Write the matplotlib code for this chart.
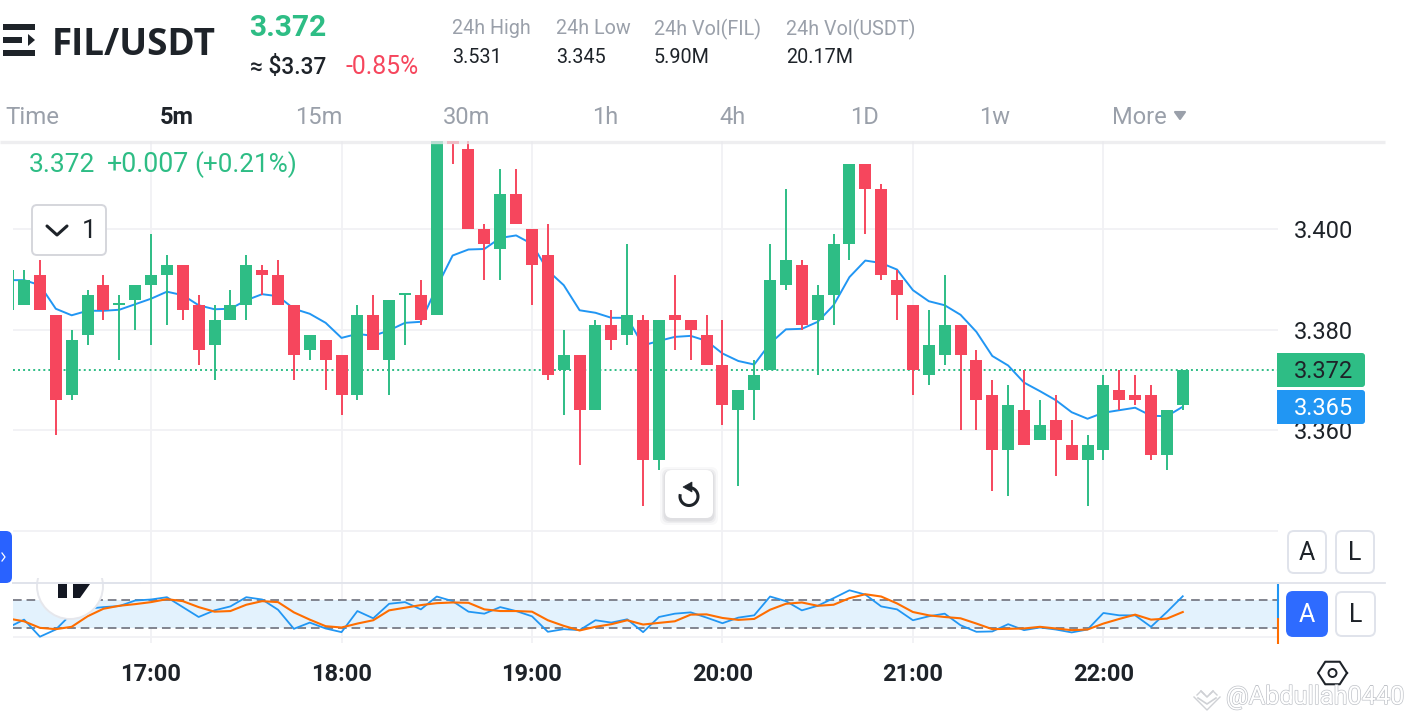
import numpy as np
import matplotlib
matplotlib.use("Agg")
import matplotlib.pyplot as plt
from matplotlib.patches import FancyBboxPatch, Circle, Polygon, Rectangle
import matplotlib.patheffects as pe

plt.rcParams['font.family'] = ['Roboto', 'DejaVu Sans']

W, H = 1413, 720
GREEN, RED, BLUE, ORANGE = '#2ebd85', '#f6465d', '#2196f3', '#ff6d00'
DARK, GREY, GRID = '#1e2329', '#9aa0aa', '#f1f1f4'

# candles: open, high, low, close
opens = [3.392,3.385,3.391,3.383,3.367,3.379,3.389,3.385,3.386,3.389,3.391,3.393,3.385,3.377,3.382,3.385,3.392,3.391,3.385,3.376,3.378,3.375,3.367,3.383,3.374,3.387,3.387,3.383,3.419,3.416,3.400,3.396,3.407,3.400,3.395,3.372,3.375,3.364,3.381,3.379,3.382,3.354,3.383,3.382,3.379,3.373,3.364,3.368,3.372,3.389,3.393,3.382,3.387,3.397,3.413,3.408,3.390,3.385,3.371,3.375,3.381,3.374,3.367,3.356,3.364,3.358,3.362,3.357,3.354,3.356,3.368,3.367,3.367,3.355,3.365]
highs = [3.392,3.392,3.394,3.383,3.380,3.388,3.391,3.387,3.389,3.399,3.395,3.393,3.387,3.385,3.388,3.395,3.393,3.394,3.385,3.379,3.378,3.375,3.385,3.387,3.386,3.387,3.390,3.422,3.419,3.418,3.401,3.412,3.412,3.400,3.401,3.380,3.375,3.382,3.384,3.397,3.383,3.382,3.391,3.382,3.383,3.382,3.368,3.374,3.397,3.408,3.394,3.389,3.399,3.413,3.413,3.409,3.392,3.385,3.384,3.391,3.381,3.376,3.370,3.369,3.372,3.366,3.367,3.362,3.359,3.371,3.372,3.371,3.369,3.364,3.372]
lows  = [3.384,3.385,3.384,3.359,3.366,3.377,3.382,3.374,3.380,3.377,3.381,3.382,3.373,3.370,3.382,3.382,3.387,3.385,3.370,3.374,3.368,3.363,3.366,3.376,3.367,3.377,3.381,3.383,3.413,3.400,3.390,3.390,3.401,3.385,3.370,3.363,3.353,3.364,3.376,3.377,3.345,3.352,3.376,3.374,3.373,3.361,3.349,3.362,3.372,3.388,3.380,3.371,3.381,3.394,3.399,3.390,3.382,3.367,3.369,3.373,3.360,3.360,3.348,3.347,3.357,3.358,3.351,3.354,3.345,3.354,3.364,3.365,3.354,3.352,3.364]
closes= [3.384,3.390,3.384,3.366,3.378,3.387,3.384,3.385,3.389,3.391,3.393,3.384,3.376,3.382,3.385,3.393,3.391,3.385,3.375,3.379,3.374,3.367,3.383,3.376,3.386,3.387,3.382,3.422,3.417,3.400,3.397,3.407,3.401,3.393,3.371,3.375,3.364,3.381,3.378,3.383,3.354,3.382,3.382,3.380,3.373,3.365,3.368,3.371,3.390,3.394,3.381,3.387,3.397,3.413,3.408,3.391,3.387,3.372,3.377,3.381,3.375,3.366,3.356,3.365,3.357,3.361,3.358,3.354,3.357,3.369,3.366,3.366,3.355,3.364,3.372]
up = [1,1,0,0,1,1,0,1,1,1,1,0,0,1,1,1,0,0,0,1,0,0,1,0,1,1,0,1,0,0,0,1,0,0,0,1,0,1,0,1,0,1,0,0,0,0,1,1,1,1,0,1,1,1,0,0,0,0,1,1,0,0,0,1,0,1,0,0,1,1,0,0,0,1,1]

ma_line = [3.3899,3.3899,3.3889,3.3842,3.3829,3.3838,3.3838,3.3840,3.3851,3.3862,3.3876,3.3869,3.3849,3.3841,3.3842,3.3859,3.3871,3.3867,3.3842,3.3832,3.3814,3.3784,3.3792,3.3788,3.3799,3.3814,3.3816,3.3885,3.3948,3.3960,3.3961,3.3983,3.3988,3.3971,3.3918,3.3889,3.3839,3.3834,3.3824,3.3824,3.3769,3.3778,3.3786,3.3788,3.3778,3.3753,3.3738,3.3731,3.3773,3.3801,3.3802,3.3816,3.3849,3.3905,3.3938,3.3933,3.3920,3.3879,3.3857,3.3849,3.3830,3.3796,3.3748,3.3729,3.3695,3.3678,3.3660,3.3636,3.3623,3.3635,3.3640,3.3645,3.3629,3.3628,3.3647]

osc_fast = [30,41.4,16.7,27.1,50,57.1,59.5,61,69,70.5,73.8,59.5,45.2,54.8,60.5,73.8,70.5,55.7,28.1,37.1,28.6,23.3,53.8,43.3,64.3,66.7,56.2,74.8,68.1,52.9,50,59.5,53.8,46.2,23.8,27.6,26.2,40.5,37.1,41.9,23.3,45.2,50,51.9,44.3,36.2,44.3,47.6,74.8,68.1,54.8,61.4,72.4,83.8,77.6,60.5,56.2,40.5,46.2,50,33.3,23.8,24.3,34.8,26.2,30,27.1,22.9,27.1,51,47.6,47.6,31,52.4,75.2]
osc_slow = [42.9,39,29.5,27.6,31,46.2,57.1,61.4,63.8,66.7,71,68.1,59.5,52.9,53.8,62.9,68.1,66.7,51.9,41.4,31.9,30,35.7,40.5,54.8,58.6,62.4,65.2,66.2,65.7,56.2,53.8,53.8,52.9,40.5,32.4,25.7,31,34.8,40.5,34.3,36.7,39,48.6,49,43.8,41,42.4,55.7,64.3,66.2,61.4,62.9,72.4,78.1,74.8,64.8,52.4,47.6,45.2,43.3,35.7,27.6,28.1,28.6,31,28.6,26.2,27.1,35.7,42.4,48.6,41.4,42.9,52.4]

hour_idx = [9,21,33,45,57,69]
hour_lab = ['17:00','18:00','19:00','20:00','21:00','22:00']
price_ticks = [3.34,3.36,3.38,3.40]
price_labels = ['','3.360','3.380','3.400']
last_price, ma_last = 3.372, 3.365
band_hi, band_lo = 70, 30

stat_heads = ['24h High','24h Low','24h Vol(FIL)','24h Vol(USDT)']
stat_vals = ['3.531','3.345','5.90M','20.17M']
stat_x = [452,556,654,786]
tabs = ['5m','15m','30m','1h','4h','1D','1w']
tab_x = [177,319,467,605,733,864,995]

fig = plt.figure(figsize=(W/100, H/100), dpi=100, facecolor='white')
def axpx(x0, y0, x1, y1, **kw):
    return fig.add_axes([x0/W, 1-y1/H, (x1-x0)/W, (y1-y0)/H], **kw)

xlim = (0.304, 80.0)
ax = axpx(13, 141, 1278, 583)
ax2 = axpx(13, 584, 1278, 643)
ax.set_xlim(*xlim); ax2.set_xlim(*xlim)
ax.set_ylim(3.3296, 3.4176)
ax2.set_ylim(7.6, 92.9)
for a in (ax, ax2):
    for s in a.spines.values():
        s.set_visible(False)
    a.set_axisbelow(True)
    a.set_xticks(hour_idx)
    a.grid(True, axis='x', color=GRID, lw=1.3)
    a.tick_params(length=0)

ax.set_xticklabels([])
ax.set_yticks(price_ticks)
ax.set_yticklabels(price_labels, fontsize=17, color=DARK)
ax.yaxis.tick_right()
ax.tick_params(axis='y', pad=11.5, length=0)
ax.grid(True, axis='y', color=GRID, lw=1.3)

idx = np.arange(len(opens))
o, h, l, c = map(np.array, (opens, highs, lows, closes))
colors = [GREEN if u else RED for u in up]
ax.axhline(last_price, color=GREEN, lw=1.4, dashes=(1, 1.6), zorder=2)
ax.plot(idx, ma_line, color=BLUE, lw=1.4, zorder=3, solid_joinstyle='round')
ax.vlines(idx, l, h, colors=colors, lw=1.4, zorder=4)
bott = np.minimum(o, c)
ax.bar(idx, np.maximum(np.abs(c-o), 0.0003), bottom=bott, width=0.756, color=colors, lw=0, zorder=5)

ax2.axhspan(band_lo, band_hi, color='#e3f2fd', lw=0, zorder=1)
ax2.set_yticks([16.7])
ax2.set_yticklabels([''])
ax2.grid(True, axis='y', color=GRID, lw=1.3)
for v in (band_hi, band_lo):
    ax2.axhline(v, color='#787b86', lw=1.3, dashes=(4.8, 2.7), zorder=2)
ax2.plot(idx, osc_fast, color=BLUE, lw=1.3, zorder=3)
ax2.plot(idx, osc_slow, color=ORANGE, lw=1.5, zorder=4)
ax2.set_xticklabels(hour_lab, fontsize=17, fontweight='bold', color=DARK)
ax2.tick_params(axis='x', pad=14.7, length=0)

# interface layer, in pixel coordinates
ui = fig.add_axes([0, 0, 1, 1], zorder=10)
ui.set_xlim(0, W); ui.set_ylim(H, 0); ui.axis('off'); ui.patch.set_alpha(0)

def rbox(x0, y0, x1, y1, r=5, fc='white', ec='none', lw=0, z=5, **kw):
    p = FancyBboxPatch((x0+r, y0+r), x1-x0-2*r, y1-y0-2*r, boxstyle=f'round,pad={r},rounding_size={r}',
                       fc=fc, ec=ec, lw=lw, zorder=z, **kw)
    ui.add_patch(p)
    return p
def txt(x, y, s, size, color=DARK, ha='left', weight='normal', z=8, **kw):
    return ui.text(x, y+1.5, s, fontsize=size, color=color, ha=ha, va='center', fontweight=weight, zorder=z, **kw)

# separators
ui.plot([0, 1385], [141.5, 141.5], color='#e9e9ec', lw=2.4, alpha=0.75, zorder=2, solid_capstyle='butt')
ui.plot([13, 1385], [583, 583], color='#e0e3eb', lw=1.3, zorder=2)

# header
for y0, y1, x1 in [(24, 30, 35), (37, 43, 22), (50, 56, 35)]:
    ui.add_patch(Rectangle((3, y0), x1-3, y1-y0, fc=DARK, ec='none'))
ui.add_patch(Polygon([[28, 34], [35, 40], [28, 46]], fc=DARK, ec='none'))
txt(52, 43.5, 'FIL/USDT', 26.6, weight='bold', family='Open Sans')
txt(249.5, 26.5, '3.372', 21.5, GREEN, weight='bold')
txt(250, 66, '≈ $3.37', 16.3, weight='medium')
txt(345, 66, '-0.85%', 17.8, RED)
for x, a_, b_ in zip(stat_x, stat_heads, stat_vals):
    txt(x, 27.5, a_, 14.2, GREY)
    txt(x, 56, b_, 14.2, DARK)
txt(5, 116.5, 'Time', 17.3, GREY)
for x, t in zip(tab_x, tabs):
    txt(x, 116.5, t, 17, DARK if t == '5m' else GREY, ha='center', weight='bold' if t == '5m' else 'normal')
txt(1112, 116.5, 'More', 17, GREY)
ui.add_patch(Polygon([[1175, 112], [1185, 112], [1180, 119]], fc=GREY, ec=GREY, lw=1.5, joinstyle='round'))

# legend in chart
txt(29, 163.5, '3.372', 19, GREEN)
txt(107, 163.5, '+0.007', 19.3, GREEN)
txt(194, 163.5, '(+0.21%)', 18.7, GREEN)
rbox(32, 205, 106, 255, r=5, fc='white', ec='#d5d6dc', lw=1.4)
ui.plot([47, 57, 67], [226, 235, 226], color=DARK, lw=2.2, zorder=8, solid_capstyle='round')
txt(82, 229, '1', 18.5)

# value tags
for y0, y1, fc, tc, s in [(353, 387, GREEN, DARK, f'{last_price:.3f}'), (390, 424, BLUE, 'white', f'{ma_last:.3f}')]:
    rbox(1277, y0, 1365, y1, r=3, fc=fc)
    ui.add_patch(Rectangle((1277, y0), 6, y1-y0, fc=fc, ec='none', zorder=5))
    txt(1294, (y0+y1)/2, s, 17, tc)

# A / L buttons
for x0, x1, y0, y1, s, fc, ec, tc in [(1288, 1326, 531, 573, 'A', 'white', '#e0e3eb', DARK),
                                      (1336, 1374, 531, 573, 'L', 'white', '#e0e3eb', DARK),
                                      (1287, 1327, 592, 636, 'A', '#2e6bff', '#2e6bff', 'white'),
                                      (1336, 1375, 592, 636, 'L', 'white', '#e0e3eb', DARK)]:
    rbox(x0, y0, x1, y1, r=6, fc=fc, ec=ec, lw=1.4)
    txt((x0+x1)/2, (y0+y1)/2-1, s, 18, tc, ha='center')

# side tab
rbox(-8, 531, 12, 583, r=6, fc='#2962ff')
ui.plot([2, 5, 2], [553, 557, 561], color='white', lw=0.9, zorder=8)

# pane axis colours
ui.plot([1278, 1278], [584, 618], color=BLUE, lw=1.5, zorder=6, solid_capstyle='butt')
ui.plot([1278, 1278], [618, 644], color=ORANGE, lw=1.5, zorder=6, solid_capstyle='butt')

# replay button
for d, a_ in [(5, .03), (3, .05), (1.5, .07)]:
    rbox(665-d, 470-d+2, 713+d, 518+d+2, r=7, fc='#303040', alpha=a_, z=4)
rbox(665, 470, 713, 518, r=7, fc='white')
th = np.radians(np.linspace(-80, 195, 60))
ui.plot(689+9*np.cos(th), 496.5+9*np.sin(th), color=DARK, lw=2.2, zorder=8, solid_capstyle='butt')
ui.add_patch(Polygon([[692, 482], [692, 492], [683, 487]], fc=DARK, ec=DARK, lw=0.5, zorder=8))

# logo medallion, cut off by the pane above it
disc = Circle((70, 586), 33, fc='white', ec='#e6e7ec', lw=1.4, zorder=3)
ui.add_patch(disc)
disc.set_clip_path(Rectangle((13, 578), 120, 60, transform=ui.transData))
ui.plot([13, 140], [583, 583], color='#e0e3eb', lw=1.3, zorder=3.1)
ui.add_patch(Rectangle((58, 584), 9, 14, fc='#131722', ec='none', zorder=4))
ui.add_patch(Polygon([[73, 584], [90, 584], [80, 598], [73, 598]], fc='#131722', ec='none', zorder=4))

# settings icon
ang = np.radians(np.arange(0, 361, 60))
ui.plot(1332.5+14.5*np.cos(ang), 673+13*np.sin(ang), color=DARK, lw=1.5, zorder=8)
ui.add_patch(Circle((1332.5, 673), 4, fc='none', ec=DARK, lw=1.4, zorder=8))

# watermark
wm = txt(1226, 695.5, '@Abdullah0440', 18.2, 'white', z=9)
wm.set_path_effects([pe.withStroke(linewidth=1.0, foreground='#bfc2c8')])
for dy, ln in [(-3, 6), (4, 9)]:
    ui.plot([1207-ln, 1207, 1207+ln], [694+dy, 700+dy, 694+dy], color='#cfd1d5', lw=1.2, zorder=9)
ui.plot([1197, 1201, 1204], [695, 691, 694], color='#cfd1d5', lw=1.0, zorder=9)
ui.plot([1210, 1213, 1217], [694, 691, 695], color='#cfd1d5', lw=1.0, zorder=9)
ui.plot([1194, 1207, 1220], [697, 710, 697], color='#cfd1d5', lw=1.0, zorder=9)

fig.savefig('out.png', dpi=100, facecolor='white')
